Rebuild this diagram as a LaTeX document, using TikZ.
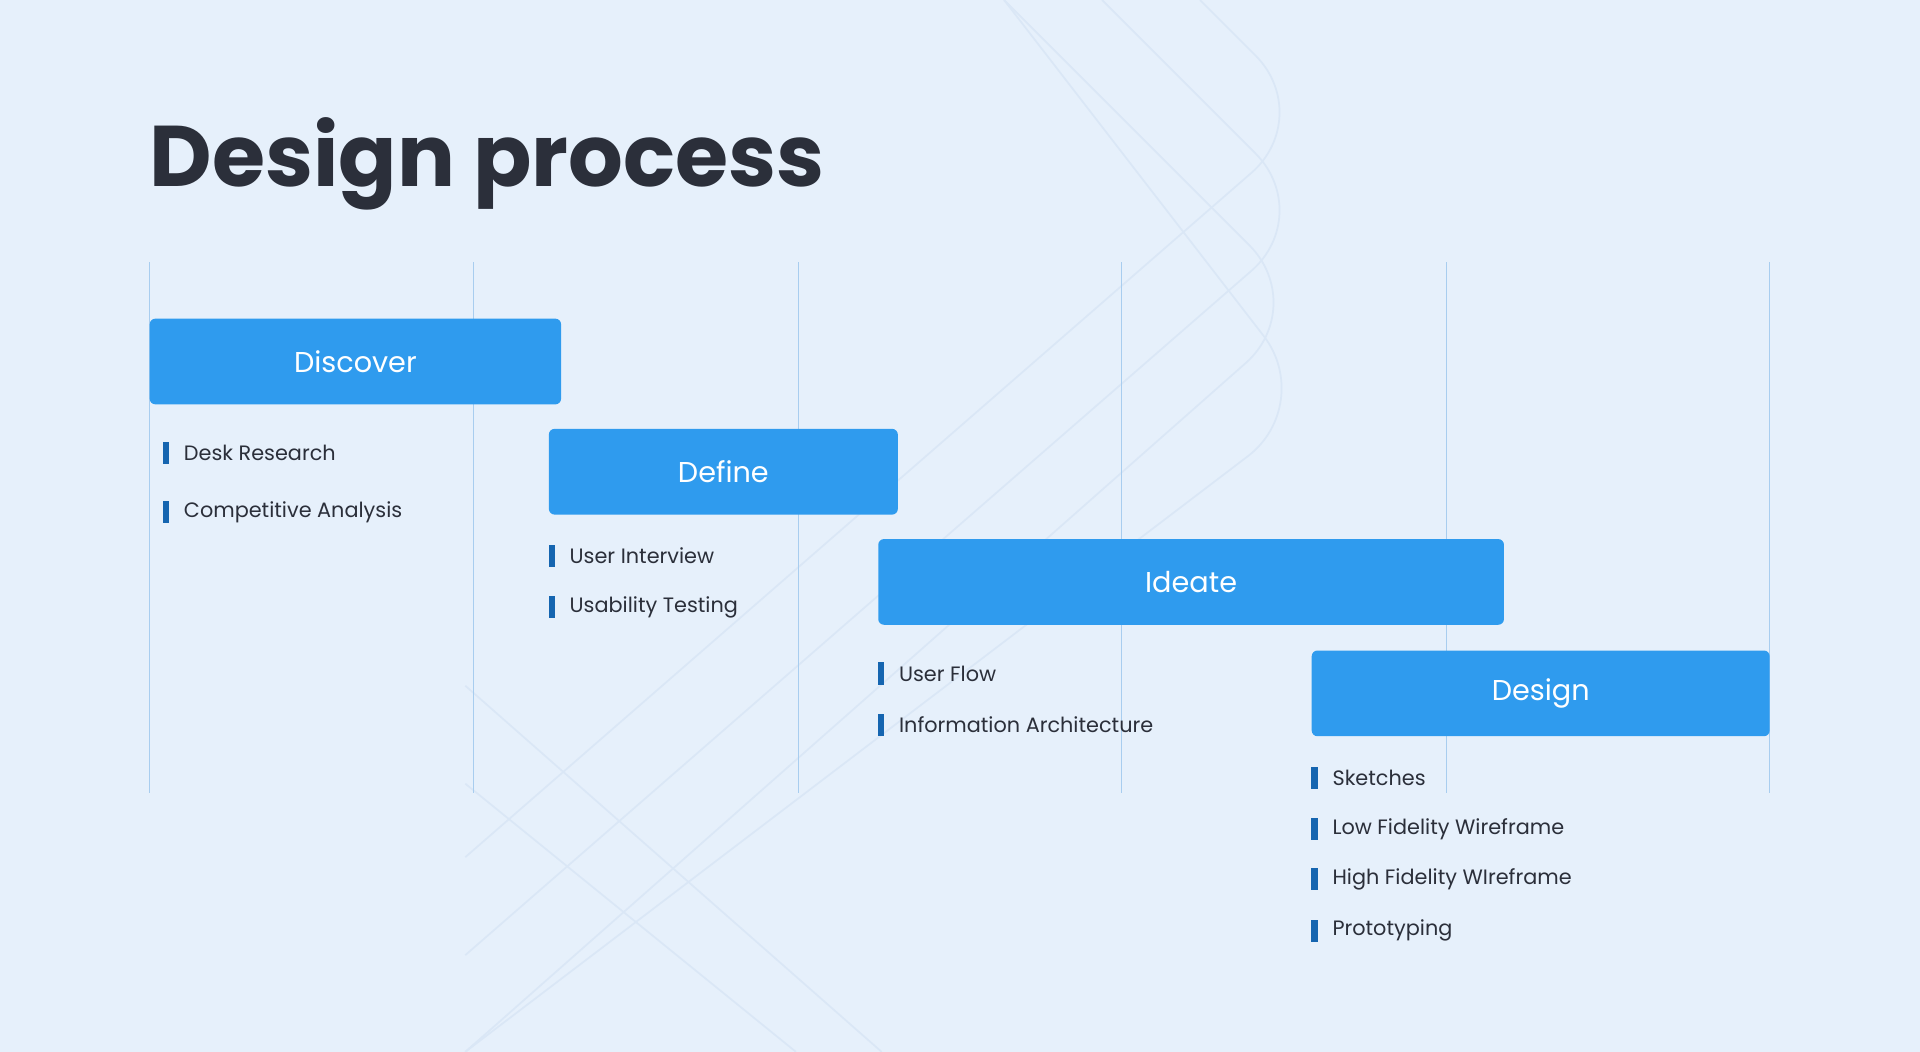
\documentclass[tikz,border=0pt]{standalone}
\usepackage{fontspec}
\setmainfont{Poppins}
\usetikzlibrary{positioning}
\definecolor{bgblue}{HTML}{E6F0FB}
\definecolor{phaseblue}{HTML}{2F9BEE}
\definecolor{markblue}{HTML}{1565B0}
\definecolor{ink}{HTML}{2B2F3A}
\definecolor{gridblue}{HTML}{A8CDEF}
\definecolor{deco}{HTML}{DAE7F6}
\tikzset{
    phase/.style={fill=phaseblue, text=white, rounded corners=4, inner sep=0,
        minimum height=70*0.03cm, font=\fontsize{20}{24}\selectfont},
    item/.style={anchor=west, text=ink, inner sep=0, font=\fontsize{14.5}{18}\selectfont},
}
\newcommand\additem[3]{% x, y, text
    \fill[markblue] (#1, #2-9) rectangle ++(5, 18);
    \node[item] at (#1+17, #2) {#3};
}
\begin{document}
\begin{tikzpicture}[x=0.03cm, y=-0.03cm]
    \fill[bgblue] (0, 0) rectangle (1568, 859);
    \useasboundingbox (0, 0) rectangle (1568, 859);

    % faint background bands
    \begin{scope}[deco, line width=1.2, rounded corners=60]
        \draw (820, 0) -- (1070, 250) -- (380, 859);
        \draw (900, 0) -- (1075, 175) -- (380, 780);
        \draw (980, 0) -- (1075, 95) -- (380, 700);
        \draw (380, 640) -- (650, 859);
        \draw (380, 560) -- (720, 859);
        \draw (820, 0) -- (1075, 330) -- (380, 859);
    \end{scope}

    \node[anchor=base west, text=ink, inner sep=0,
        font=\fontsize{60}{70}\selectfont\bfseries] (title) at (122, 152) {Design process};

    % grid
    \foreach \x in {122, 387, 652, 916, 1181, 1445}
        \draw[gridblue, line width=0.8] (\x, 214) -- (\x, 648);

    % phases
    \node[phase, anchor=north west, minimum width=336*0.03cm] (discover) at (122, 260) {Discover};
    \node[phase, anchor=north west, minimum width=285*0.03cm] (define) at (448, 350) {Define};
    \node[phase, anchor=north west, minimum width=511*0.03cm] (ideate) at (717, 440) {Ideate};
    \node[phase, anchor=north west, minimum width=374*0.03cm] (design) at (1071, 531) {Design};

    % activities
    \additem{133}{370}{Desk Research}
    \additem{133}{418}{Competitive Analysis}
    \additem{448}{454}{User Interview}
    \additem{448}{496}{Usability Testing}
    \additem{717}{550}{User Flow}
    \additem{717}{592}{Information Architecture}
    \additem{1071}{635}{Sketches}
    \additem{1071}{677}{Low Fidelity Wireframe}
    \additem{1071}{718}{High Fidelity WIreframe}
    \additem{1071}{760}{Prototyping}
\end{tikzpicture}
\end{document}
